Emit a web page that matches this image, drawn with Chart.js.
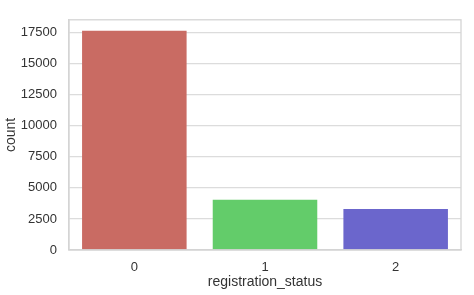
<!DOCTYPE html>
<html>
<head>
<meta charset="utf-8">
<script src="https://cdn.jsdelivr.net/npm/chart.js@4/dist/chart.umd.min.js"></script>
<style>
  html, body { margin: 0; padding: 0; background: #fff; }
  #wrap { width: 474px; height: 295px; }
</style>
</head>
<body>
<div id="wrap"><canvas id="count-chart" width="474" height="295"></canvas></div>
<script>
const categories = ['0', '1', '2'];
const counts = [17650, 4050, 3300];
const barColors = ['#c96b63', '#63cc6a', '#6b66cc'];
const yTicks = [0, 2500, 5000, 7500, 10000, 12500, 15000, 17500];

// box round the plot area, like seaborn's whitegrid spines
const frame = {
    id: 'frame',
    afterDraw(chart) {
        const a = chart.chartArea;
        const c = chart.ctx;
        c.save();
        c.strokeStyle = '#d4d4d4';
        c.lineWidth = 1.3;
        c.strokeRect(a.left, a.top, a.right - a.left, a.bottom - a.top);
        c.restore();
    }
};

document.addEventListener('DOMContentLoaded', () => {
    const ctx = document.getElementById('count-chart').getContext('2d');
    Chart.defaults.font.family = '"Liberation Sans", Arial, sans-serif';
    Chart.defaults.color = '#333333';
    new Chart(ctx, {
        type: 'bar',
        data: {
            labels: categories,
            datasets: [{
                label: 'count',
                data: counts,
                backgroundColor: barColors,
                borderWidth: 0,
                barPercentage: 0.8,
                categoryPercentage: 1
            }]
        },
        options: {
            responsive: false,
            animation: false,
            layout: { padding: { left: 0, top: 10, right: 13, bottom: 0 } },
            plugins: {
                legend: { display: false },
                tooltip: { enabled: false }
            },
            scales: {
                x: {
                    grid: { display: false },
                    border: { color: '#d4d4d4', width: 1.3 },
                    ticks: { font: { size: 13 }, padding: 2 },
                    title: {
                        display: true,
                        text: 'registration_status',
                        font: { size: 14 },
                        padding: { top: 0, bottom: 4 }
                    },
                    afterFit(scale) { scale.height = 45; }
                },
                y: {
                    min: 0,
                    max: 18530,
                    grid: { color: '#dcdcdc', lineWidth: 1.3, drawTicks: false },
                    border: { color: '#d4d4d4', width: 1.3 },
                    ticks: {
                        font: { size: 13 },
                        padding: 12,
                        callback: v => String(v)
                    },
                    afterBuildTicks(scale) {
                        scale.ticks = yTicks.map(v => ({ value: v }));
                    },
                    title: {
                        display: true,
                        text: 'count',
                        font: { size: 14 },
                        padding: { top: 3, bottom: 0 }
                    },
                    afterFit(scale) { scale.width = 69; }
                }
            }
        },
        plugins: [frame]
    });
});
</script>
</body>
</html>
